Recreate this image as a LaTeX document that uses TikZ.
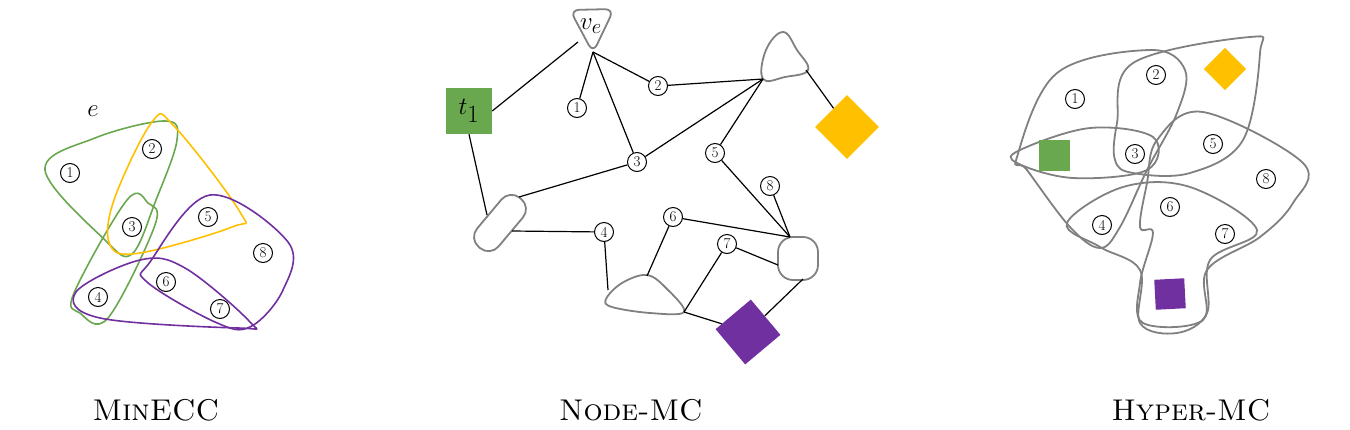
\documentclass[tikz,border=0pt]{standalone}
\usepackage{fontspec}
\begin{document}
\begin{tikzpicture}[x=1pt,y=-1pt,
  num/.style={draw,circle,line width=1pt,inner sep=0pt,minimum size=19pt,font=\fontsize{15}{15}\selectfont},
  edge/.style={line width=1.2pt},
  hy/.style={line width=1.6pt},
  gr/.style={draw=gray,line width=1.8pt},
  captext/.style={font=\fontsize{30}{30}\selectfont\scshape}]
\definecolor{cgreen}{RGB}{106,168,79}
\definecolor{cyellow}{RGB}{255,192,0}
\definecolor{cpurple}{RGB}{112,48,160}
\useasboundingbox (0,0) rectangle (1350,429);
% ---------- MinECC ----------
\begin{scope}[hy]
\draw[cgreen] plot[smooth cycle,tension=0.6] coordinates{(45,170)(95,138)(165,121)(177,140)(156,200)(132,254)(105,240)};
\draw[cgreen] plot[smooth cycle,tension=0.6] coordinates{(127,200)(148,203)(155,225)(108,318)(80,313)(74,293)};
\draw[cyellow] plot[smooth cycle,tension=0.6] coordinates{(152,122)(174,126)(240,212)(232,227)(140,253)(110,245)(114,200)};
\draw[cpurple] plot[smooth cycle,tension=0.6] coordinates{(150,262)(210,195)(288,242)(283,290)(250,327)(215,322)(147,282)};
\draw[cpurple] plot[smooth cycle,tension=0.6] coordinates{(76,292)(140,260)(185,268)(250,322)(238,328)(100,318)};
\end{scope}
\node (L1) [num] at (70,173) {1};
\node (L2) [num] at (152,149) {2};
\node (L3) [num] at (132,227) {3};
\node (L5) [num] at (208,217) {5};
\node (L8) [num] at (263,253) {8};
\node (L6) [num] at (166,282) {6};
\node (L7) [num] at (220,309) {7};
\node (L4) [num] at (98,297) {4};
\node (le) at (93,111) {\fontsize{32}{32}\selectfont$e$};
\node (c1) [captext] at (156,410) {MinECC};
% ---------- Node-MC ----------
\draw[gr,rounded corners=9pt] (570,10)--(614,9)--(593,53)--cycle;
\node (ve) at (591,26) {\fontsize{32}{32}\selectfont$v_e$};
\coordinate (veL) at (578,42);
\coordinate (veB) at (593,52);
\draw[gr] plot[smooth cycle,tension=0.7] coordinates{(783,32)(797,50)(808,70)(785,77)(763,79)(766,50)};
\coordinate (tr) at (763,79);
\coordinate (trR) at (806,70);
\node (t1) [fill=cgreen,minimum size=46pt,inner sep=0pt] at (469,111) {\fontsize{36}{36}\selectfont$t_1$};
\draw[gr,rounded corners=13pt] (531.3,207.5)--(509.9,189.5)--(468.7,238.5)--(490.1,256.5)--cycle;
\coordinate (capT) at (487,215);
\coordinate (capR) at (519,197);
\coordinate (capB) at (512,231);
\draw[gr] plot[smooth cycle,tension=0.6] coordinates{(606,299)(622,283)(647,275)(667,289)(684,312)(650,313)(612,307)};
\coordinate (bbL) at (608,290);
\coordinate (bbT) at (647,276);
\coordinate (bbR) at (684,312);
\draw[gr,rounded corners=15pt] (778,237) rectangle (818,280);
\coordinate (rbV) at (790,237);
\coordinate (rbL) at (778,265);
\coordinate (rbB) at (803,279);
\node (yd) [fill=cyellow,minimum size=45pt,inner sep=0pt,rotate=45] at (847,127) {};
\node (pd) [fill=cpurple,minimum size=46pt,inner sep=0pt,rotate=40] at (748,332) {};
\node (M1) [num] at (577,108) {1};
\node (M2) [num] at (658,86) {2};
\node (M3) [num] at (637,162) {3};
\node (M5) [num] at (715,153) {5};
\node (M8) [num] at (770,186) {8};
\node (M6) [num] at (673,217) {6};
\node (M4) [num] at (604,232) {4};
\node (M7) [num] at (727,244) {7};
\begin{scope}[edge]
\draw (veL) -- (t1.east);
\draw (veB) -- (M1); \draw (veB) -- (M3); \draw (veB) -- (M2);
\draw (M2) -- (tr); \draw (tr) -- (M3); \draw (tr) -- (M5);
\draw (trR) -- (yd);
\draw (t1.south) -- (capT);
\draw (M3) -- (capR);
\draw (capB) -- (M4);
\draw (M4) -- (bbL);
\draw (M6) -- (bbT); \draw (M6) -- (rbV);
\draw (M5) -- (rbV); \draw (M8) -- (rbV);
\draw (M7) -- (bbR); \draw (M7) -- (rbL);
\draw (bbR) -- (pd); \draw (rbB) -- (pd);
\end{scope}
\node (c2) [captext] at (631,410) {Node-MC};
% ---------- Hyper-MC ----------
\begin{scope}[gr]
\draw plot[smooth cycle,tension=0.6] coordinates{(1017,157)(1057,73)(1150,50)(1185,70)(1177,113)(1147,170)(1120,227)(1100,248)(1070,227)(1027,170)};
\draw plot[smooth cycle,tension=0.6] coordinates{(1020,150)(1090,128)(1153,137)(1147,170)(1073,178)(1017,163)};
\draw plot[smooth cycle,tension=0.6] coordinates{(1117,123)(1133,63)(1250,37)(1260,53)(1243,140)(1190,173)(1133,173)(1115,160)};
\draw plot[smooth cycle,tension=0.6] coordinates{(1157,140)(1203,112)(1303,163)(1293,203)(1260,237)(1207,270)(1203,320)(1143,323)(1140,283)(1153,233)(1140,227)(1147,183)};
\draw plot[smooth cycle,tension=0.6] coordinates{(1067,223)(1123,187)(1190,187)(1257,230)(1210,260)(1207,313)(1177,333)(1140,323)(1140,270)(1100,247)};
\end{scope}
\node (gs) [fill=cgreen,minimum size=31pt,inner sep=0pt] at (1054,155) {};
\node (ys) [fill=cyellow,minimum size=30pt,inner sep=0pt,rotate=45] at (1225,69) {};
\node (ps) [fill=cpurple,minimum size=30pt,inner sep=0pt,rotate=3] at (1170,294) {};
\node (R1) [num] at (1075,99) {1};
\node (R2) [num] at (1156,75) {2};
\node (R3) [num] at (1135,154) {3};
\node (R5) [num] at (1213,144) {5};
\node (R8) [num] at (1266,179) {8};
\node (R6) [num] at (1170,207) {6};
\node (R4) [num] at (1102,225) {4};
\node (R7) [num] at (1225,234) {7};
\node (c3) [captext] at (1191,410) {Hyper-MC};
\end{tikzpicture}
\end{document}
